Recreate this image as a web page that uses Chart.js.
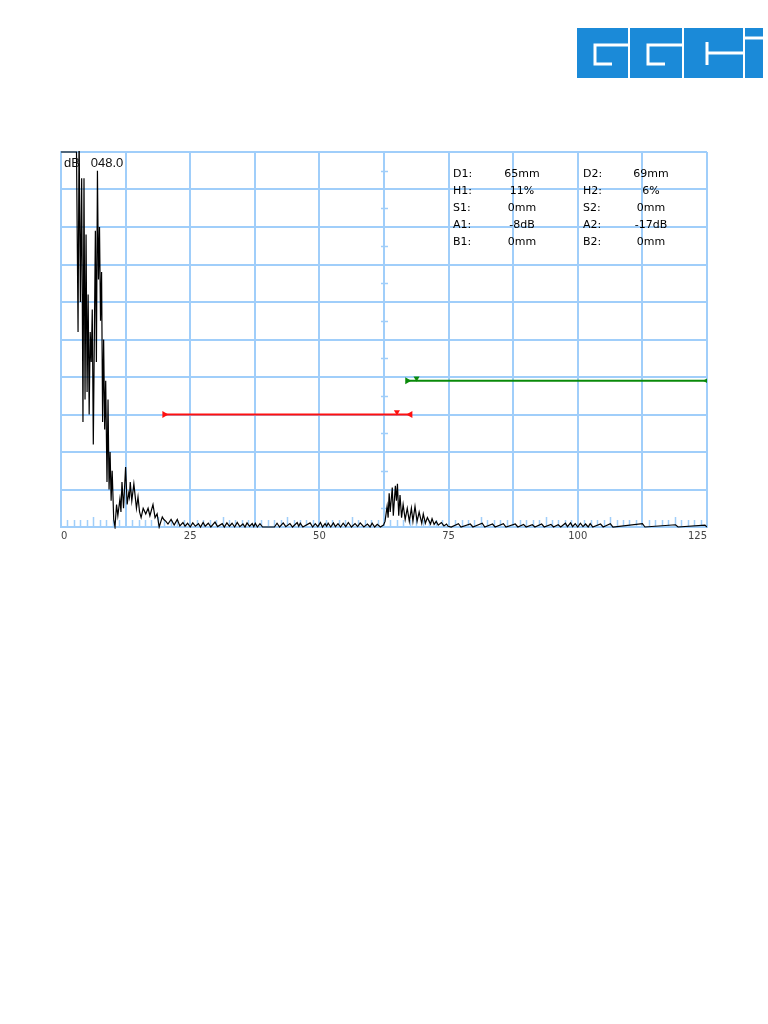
<!DOCTYPE html>
<html>
<head>
<meta charset="utf-8">
<script src="https://cdn.jsdelivr.net/npm/chart.js@4.4.1/dist/chart.umd.min.js"></script>
<style>
  body { margin: 0; background: #fff; }
  #page { position: relative; width: 768px; height: 1024px; overflow: hidden; }
  #logo { position: absolute; left: 577px; top: 28px; }
  #scope { position: absolute; left: 51px; top: 142px; width: 666px; height: 409px; }
  #gain { position: absolute; left: 64px; top: 155px; font: 13px "Liberation Sans", Arial, sans-serif; color: #111; white-space: pre; }
  #readout { position: absolute; left: 453px; top: 165px; font: 11px "DejaVu Sans", Verdana, sans-serif; color: #000; }
  #readout .row { height: 17px; line-height: 17px; position: relative; width: 240px; }
  #readout span { position: absolute; top: 0; }
  #readout .l1 { left: 0; }
  #readout .v1 { left: 39px; width: 60px; text-align: center; }
  #readout .l2 { left: 130px; }
  #readout .v2 { left: 168px; width: 60px; text-align: center; }
</style>
</head>
<body>
<div id="page">
  <svg id="logo" width="186" height="50" viewBox="0 0 186 50">
    <rect x="0" y="0" width="51" height="50" fill="#1b8ad8"/>
    <rect x="53" y="0" width="52" height="50" fill="#1b8ad8"/>
    <rect x="107" y="0" width="59" height="50" fill="#1b8ad8"/>
    <rect x="168" y="0" width="18" height="50" fill="#1b8ad8"/>
    <path d="M51 17 H18 V36 H35" fill="none" stroke="#fff" stroke-width="3"/>
    <path d="M105 17 H71 V36 H88" fill="none" stroke="#fff" stroke-width="3"/>
    <path d="M130 14 V37 M130 25 H166" fill="none" stroke="#fff" stroke-width="3"/>
    <path d="M168 10 H186" fill="none" stroke="#fff" stroke-width="3"/>
  </svg>
  <div id="scope"><canvas id="scan"></canvas></div>
  <div id="gain">dB   048.0</div>
  <div id="readout"></div>
</div>
<script>
// A-scan trace: sound path (mm) and echo amplitude (% screen height)
const echoDistance = [
  0, 3.0, 3.3, 3.5, 3.75, 4.0, 4.25, 4.45, 4.65, 4.85, 5.05, 5.25, 5.45, 5.65, 5.85, 6.05,
  6.25, 6.45, 6.65, 6.85, 7.05, 7.25, 7.45, 7.65, 7.85, 8.05, 8.25, 8.45, 8.65, 8.9, 9.1, 9.3,
  9.5, 9.7, 9.9, 10.2, 10.45, 10.75, 11.0, 11.4, 11.6, 11.8, 12.1, 12.5, 12.8, 13.1, 13.25, 13.4,
  13.7, 14.1, 14.6, 14.9, 15.2, 15.5, 15.9, 16.4, 16.85, 17.2, 17.8, 18.2, 18.6, 19.0, 19.6, 19.9,
  20.3, 20.7, 21.3, 21.9, 22.5, 23.0, 23.6, 24.0, 24.5, 25.0, 25.5, 26.0, 26.6, 27.0, 27.5, 27.9,
  28.5, 29.0, 29.8, 30.3, 31.2, 31.6, 32.1, 32.6, 33.1, 33.6, 34.1, 34.6, 35.2, 35.6, 36.0, 36.5,
  37.0, 37.3, 37.6, 38.0, 38.5, 39.0, 41.3, 41.8, 42.3, 43.0, 43.5, 44.3, 44.8, 45.7, 46.0, 46.3,
  46.8, 48.2, 48.7, 49.2, 49.7, 50.2, 50.6, 51.1, 51.4, 51.7, 52.2, 52.7, 53.1, 53.6, 54.1, 54.6,
  55.1, 55.6, 56.2, 56.9, 57.4, 57.9, 58.6, 59.3, 59.8, 60.2, 60.7, 61.2, 61.8, 62.4, 62.7, 63.1,
  63.3, 63.5, 63.7, 64.1, 64.3, 64.7, 64.9, 65.1, 65.35, 65.6, 65.9, 66.2, 66.6, 67.0, 67.4, 67.8,
  68.1, 68.5, 68.9, 69.3, 69.8, 70.1, 70.5, 70.9, 71.5, 71.8, 72.2, 72.6, 73.0, 73.6, 74.1, 74.6,
  74.9, 75.5, 76.9, 77.4, 79.2, 79.7, 81.5, 82.0, 83.5, 84.0, 85.6, 86.1, 87.9, 88.4, 89.5, 90.0,
  91.2, 91.7, 93.0, 93.5, 94.8, 95.3, 96.2, 96.7, 97.6, 98.0, 98.6, 99.0, 99.5, 100.0, 100.5, 101.0,
  101.5, 102.0, 102.4, 102.9, 104.4, 104.9, 106.3, 106.8, 112.5, 113.0, 118.9, 119.4, 124.6, 125
];
const echoAmplitude = [
  100, 100, 52, 105, 60, 93, 28, 93, 34, 78, 36, 62, 30, 52, 44, 58,
  22, 50, 79, 44, 95, 66, 80, 55, 68, 28, 50, 26, 39, 12, 34, 10,
  20, 7, 15, 2, 0, 6, 3, 7.5, 4, 12, 5, 16, 6, 9, 8, 12,
  7, 11.5, 5, 8, 4, 2.5, 5, 3.5, 5, 3, 6, 2.5, 3.5, 0, 2.7, 2,
  1.5, 0.8, 2, 0.5, 2, 0.3, 1.2, 0.2, 1.0, 0, 1.1, 0.2, 0.9, 0, 1.2, 0.2,
  1.0, 0, 1.3, 0.1, 0.9, 0, 1.1, 0.2, 1.0, 0, 1.2, 0.1, 0.8, 0, 1.1, 0.2,
  0.9, 0.1, 1.0, 0, 0.9, 0, 0, 1.0, 0, 1.1, 0.1, 0.9, 0, 1.2, 0.2, 1.0,
  0, 1.1, 0, 0.9, 0.1, 1.2, 0, 0.9, 0.2, 1.0, 0, 1.1, 0.1, 0.9, 0, 1.0,
  0.1, 1.2, 0, 0.9, 0.1, 1.1, 0, 0.8, 0, 1.0, 0, 0.7, 0, 0.5, 1.5, 5.5,
  2.5, 9, 4, 10.5, 3, 11, 7, 11.5, 3, 8.5, 2.5, 6, 2, 5, 1.5, 5,
  1.5, 5.5, 1.5, 4, 1, 3.5, 1, 2.5, 0.8, 2.2, 0.7, 1.5, 0.5, 1.2, 0.3, 0.8,
  0.2, 0, 0.9, 0, 0.8, 0, 1.0, 0, 0.8, 0, 0.9, 0, 0.8, 0, 0.7, 0,
  0.6, 0, 0.8, 0, 0.7, 0, 0.6, 0, 1.0, 0.1, 1.1, 0.1, 0.9, 0, 1.0, 0.1,
  0.8, 0, 0.9, 0, 0.8, 0, 0.9, 0, 0.9, 0, 0.6, 0, 0.5, 0
];

// gates A (red) and B (green): start, end, threshold level; markers at D1 / D2
const gateStart = [20, 67];
const gateEnd = [67.6, 125];
const gateLevel = [30, 39];
const markerDepth = [65, 68.8];

// screen divisions and axis labels
const xTickStep = 12.5;
const xLabelEvery = 25;
const yTickStep = 10;

// readout panel
const readoutLabelsA = ['D1:', 'H1:', 'S1:', 'A1:', 'B1:'];
const readoutValuesA = ['65mm', '11%', '0mm', '-8dB', '0mm'];
const readoutLabelsB = ['D2:', 'H2:', 'S2:', 'A2:', 'B2:'];
const readoutValuesB = ['69mm', '6%', '0mm', '-17dB', '0mm'];

const gridColour = 'rgb(160, 206, 250)';
const gateColours = ['#ff1010', '#0a8a0a'];

document.getElementById('readout').innerHTML = readoutLabelsA.map((l, i) =>
  `<div class="row"><span class="l1">${l}</span><span class="v1">${readoutValuesA[i]}</span>` +
  `<span class="l2">${readoutLabelsB[i]}</span><span class="v2">${readoutValuesB[i]}</span></div>`
).join('');

// small scale marks along the baseline and on the centre line
const scopeTicks = {
  id: 'scopeTicks',
  beforeDatasetsDraw(chart) {
    const { ctx, chartArea: a, scales: { x, y } } = chart;
    ctx.save();
    ctx.strokeStyle = gridColour;
    ctx.lineWidth = 1.5;
    ctx.beginPath();
    for (let i = 1; i < 100; i++) {
      if (i % 10 === 0) continue;
      const px = Math.round(x.getPixelForValue(i * xTickStep / 10)) + 0.5;
      const len = i % 5 === 0 ? 10 : 7;
      ctx.moveTo(px, a.bottom);
      ctx.lineTo(px, a.bottom - len);
    }
    const cx = Math.round(x.getPixelForValue(62.5));
    for (let j = 1; j < 20; j += 2) {
      const py = Math.round(y.getPixelForValue(j * yTickStep / 2)) + 0.5;
      ctx.moveTo(cx - 3, py);
      ctx.lineTo(cx + 4, py);
    }
    ctx.stroke();
    ctx.restore();
  }
};

const trace = echoDistance.map((d, i) => ({ x: d, y: echoAmplitude[i] }));

const gateSets = gateStart.map((s, i) => ({
  type: 'line',
  data: [{ x: s, y: gateLevel[i] }, { x: gateEnd[i], y: gateLevel[i] }],
  borderColor: gateColours[i],
  backgroundColor: gateColours[i],
  borderWidth: 2,
  pointStyle: 'triangle',
  pointRotation: [90, -90],
  pointRadius: 4,
  pointBorderWidth: 0,
  order: 1
}));

const markerSets = markerDepth.map((d, i) => ({
  type: 'scatter',
  data: [{ x: d, y: gateLevel[i] + 0.7 }],
  backgroundColor: gateColours[i],
  borderColor: gateColours[i],
  pointStyle: 'triangle',
  pointRotation: 180,
  pointRadius: 3.5,
  pointBorderWidth: 0,
  order: 0
}));

new Chart(document.getElementById('scan'), {
  data: {
    datasets: [
      {
        type: 'line',
        data: trace,
        borderColor: '#000',
        borderWidth: 1.2,
        pointRadius: 0,
        tension: 0,
        clip: { left: 0, top: 1, right: 0, bottom: 2 },
        order: 2
      },
      ...gateSets,
      ...markerSets
    ]
  },
  options: {
    responsive: true,
    maintainAspectRatio: false,
    animation: false,
    layout: { padding: { left: 10, right: 10, top: 10, bottom: 6 } },
    plugins: { legend: { display: false }, tooltip: { enabled: false } },
    scales: {
      x: {
        type: 'linear',
        min: 0,
        max: 125,
        border: { color: gridColour, width: 2 },
        grid: { color: gridColour, lineWidth: 2, drawTicks: false },
        ticks: {
          stepSize: xTickStep,
          autoSkip: false,
          maxRotation: 0,
          align: 'inner',
          padding: 3,
          color: '#444',
          font: { family: '"DejaVu Sans", Verdana, sans-serif', size: 10 },
          callback: v => (v % xLabelEvery === 0 ? String(v) : '')
        }
      },
      y: {
        type: 'linear',
        min: 0,
        max: 100,
        border: { color: gridColour, width: 2 },
        grid: { color: gridColour, lineWidth: 2, drawTicks: false },
        ticks: { stepSize: yTickStep, display: false }
      }
    }
  },
  plugins: [scopeTicks]
});
</script>
</body>
</html>
